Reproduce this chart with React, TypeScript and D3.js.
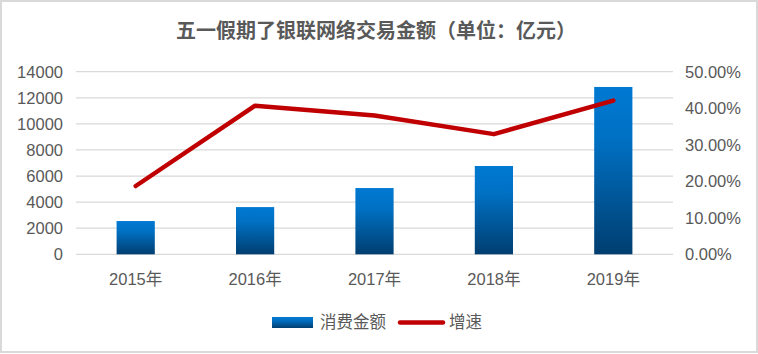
import React from "react";
import * as d3 from "d3";

const categories = ["2015年", "2016年", "2017年", "2018年", "2019年"];
const amounts = [2550, 3620, 5080, 6770, 12830];
const growth = [0.187, 0.407, 0.380, 0.329, 0.421];
const leftTicks = [0, 2000, 4000, 6000, 8000, 10000, 12000, 14000];
const rightTicks = [0, 0.1, 0.2, 0.3, 0.4, 0.5];
const title = "五一假期了银联网络交易金额（单位：亿元）";
const seriesNames = ["消费金额", "增速"];

const W = 758;
const H = 354;
const M = { left: 76, right: 85, top: 71.7, bottom: 99.7 };

export default function App() {
  const x = d3
    .scaleBand<string>()
    .domain(categories)
    .range([M.left, W - M.right])
    .paddingInner(0.68)
    .paddingOuter(0.34);
  const yL = d3.scaleLinear().domain([0, 14000]).range([H - M.bottom, M.top]);
  const yR = d3.scaleLinear().domain([0, 0.5]).range([H - M.bottom, M.top]);
  const line = d3
    .line<number>()
    .x((_, i) => (x(categories[i]) as number) + x.bandwidth() / 2)
    .y((d) => yR(d));
  const pct = d3.format(".2%");
  const font = "'Liberation Sans', 'Noto Sans CJK SC', sans-serif";
  const gray = "#595959";

  return (
    <div style={{ position: "absolute", left: 0, top: 0 }}>
      <svg width={W} height={H} style={{ display: "block" }}>
        <defs>
          <linearGradient id="barGrad" x1="0" y1="0" x2="0" y2="1">
            <stop offset="0" stopColor="#0079d2" />
            <stop offset="0.3" stopColor="#0071c4" />
            <stop offset="1" stopColor="#003e70" />
          </linearGradient>
        </defs>
        <rect x={0} y={0} width={W} height={H} fill="#fff" />
        <rect x={1} y={1} width={W - 2} height={H - 3} fill="none" stroke="#d9d9d9" strokeWidth={2} />
        <text
          x={W / 2 - 3}
          y={38}
          textAnchor="middle"
          fontFamily="'Noto Sans CJK SC', sans-serif"
          fontWeight="bold"
          fontSize={20}
          fill={gray}
        >
          {title}
        </text>
        {leftTicks.map((t) => (
          <line
            key={"g" + t}
            x1={M.left}
            x2={W - M.right}
            y1={yL(t)}
            y2={yL(t)}
            stroke="#d9d9d9"
            strokeWidth={1.3}
          />
        ))}
        {leftTicks.map((t) => (
          <text
            key={"l" + t}
            x={63}
            y={yL(t)}
            dy="0.36em"
            textAnchor="end"
            fontFamily={font}
            fontSize={16.5}
            fill={gray}
          >
            {t}
          </text>
        ))}
        {rightTicks.map((t) => (
          <text
            key={"r" + t}
            x={685}
            y={yR(t)}
            dy="0.36em"
            textAnchor="start"
            fontFamily={font}
            fontSize={16.5}
            fill={gray}
          >
            {pct(t)}
          </text>
        ))}
        {categories.map((c, i) => (
          <rect
            key={"b" + c}
            x={x(c)}
            y={yL(amounts[i])}
            width={x.bandwidth()}
            height={yL(0) - yL(amounts[i])}
            fill="url(#barGrad)"
          />
        ))}
        <path
          d={line(growth) || ""}
          fill="none"
          stroke="#c00000"
          strokeWidth={4.5}
          strokeLinejoin="round"
          strokeLinecap="round"
        />
        {categories.map((c) => (
          <text
            key={"x" + c}
            x={(x(c) as number) + x.bandwidth() / 2}
            y={285}
            textAnchor="middle"
            fontFamily={font}
            fontSize={16.5}
            fill={gray}
          >
            {c}
          </text>
        ))}
        <rect x={272} y={317} width={41} height={11} fill="url(#barGrad)" />
        <text x={320} y={328} fontFamily={font} fontSize={16.5} fill={gray}>
          {seriesNames[0]}
        </text>
        <line x1={400} x2={443} y1={322.5} y2={322.5} stroke="#c00000" strokeWidth={4.5} strokeLinecap="round" />
        <text x={449} y={328} fontFamily={font} fontSize={16.5} fill={gray}>
          {seriesNames[1]}
        </text>
      </svg>
    </div>
  );
}
